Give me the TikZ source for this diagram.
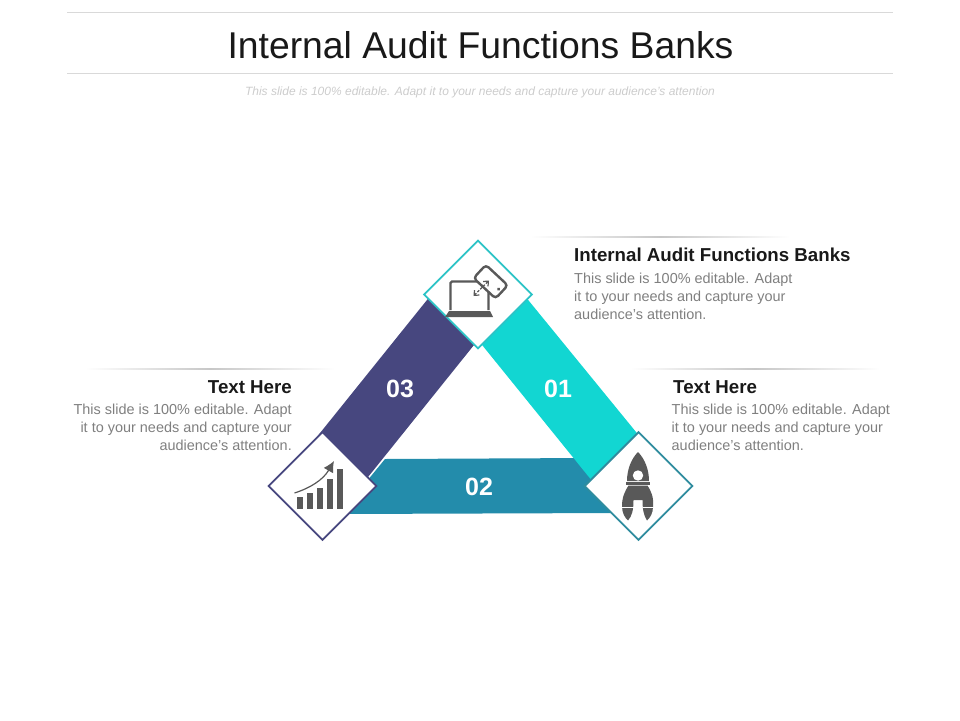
\documentclass[tikz,border=0pt]{standalone}
\usepackage{fontspec}
\setmainfont{Liberation Sans}
\usetikzlibrary{arrows.meta, positioning, shapes.geometric}
\definecolor{tealbar}{HTML}{12D6D2}
\definecolor{navybar}{HTML}{47477F}
\definecolor{bluebar}{HTML}{238CAB}
\definecolor{tealline}{HTML}{2CC3C6}
\definecolor{blueline}{HTML}{2F8C9E}
\definecolor{icongray}{HTML}{595959}
\definecolor{bodygray}{HTML}{7F7F7F}
\begin{document}
\begin{tikzpicture}[
  x=1pt, y=-1pt,
  diamondbox/.style={draw, diamond, aspect=1, fill=white, line width=1.9pt, inner sep=0pt,
                     minimum width=108.5pt, minimum height=108.5pt},
  numlabel/.style={font=\fontsize{25}{25}\selectfont\bfseries, text=white, inner sep=0pt},
  headlabel/.style={font=\fontsize{18.7}{20}\selectfont\bfseries, text=black!90, inner sep=0pt},
  bodylabel/.style={font=\fontsize{14.45}{17.8}\selectfont, text=bodygray, inner sep=0pt},
  ruleline/.style={draw=black!15, line width=0.8pt},
  fadeline/.style={left color=white, right color=white, middle color=black!22}
]
  \useasboundingbox (0,0) rectangle (960,720);

  % title block
  \node[font=\fontsize{37.3}{38}\selectfont, text=black!90, inner sep=0pt] (title) at (480.5,45) {Internal Audit Functions Banks};
  \coordinate (ruleAL) at (67,12);
  \coordinate (ruleAR) at (893,12);
  \coordinate (ruleBL) at (67,73);
  \coordinate (ruleBR) at (893,73);
  \draw[ruleline] (ruleAL) -- (ruleAR);
  \draw[ruleline] (ruleBL) -- (ruleBR);
  \node[font=\fontsize{12}{12}\selectfont\itshape, text=black!20, inner sep=0pt] (subtitle) at (480,92)
    {This slide is 100\% editable. Adapt it to your needs and capture your audience's attention};

  % triangle bars
  \fill[bluebar] (340,514) -- (385,459) -- (590,458) -- (620,513) -- cycle;
  \fill[navybar] (435,290) -- (482,335) -- (360,487) -- (312,443) -- cycle;
  \fill[tealbar] (520,290) -- (645,443) -- (597,487) -- (474,335) -- cycle;

  \node[numlabel] (n01) at (558,389) {01};
  \node[numlabel] (n02) at (479,487) {02};
  \node[numlabel] (n03) at (400,389) {03};

  % corner diamonds
  \node[diamondbox, draw=tealline] (top) at (478,294.5) {};
  \node[diamondbox, draw=navybar] (left) at (322.5,486) {};
  \node[diamondbox, draw=blueline] (right) at (638.5,486) {};

  % laptop and phone
  \draw[icongray, line width=2.2pt, rounded corners=1.5pt] (450.5,310) -- (450.5,281.5) -- (488.5,281.5) -- (488.5,310);
  \fill[icongray] (449,311) -- (490,311) -- (493,317) -- (445,317) -- cycle;
  \begin{scope}[rotate around={-43:(490.7,281.7)}]
    \draw[icongray, fill=white, line width=2.4pt, rounded corners=3.5pt] (475.7,272.7) rectangle (505.7,290.7);
    \fill[icongray] (501.5,281.7) circle (1.8);
  \end{scope}
  \draw[icongray, line width=1.2pt, dash pattern=on 2.5pt off 1.5pt, {Straight Barb[length=4pt,width=7pt]}-{Straight Barb[length=4pt,width=7pt]}]
    (473.5,296) -- (489,280.5);

  % chart
  \foreach \x/\y in {297/497,307/493,317/488,327/479,337/469} {
    \fill[icongray] (\x,\y) rectangle (\x+6,509);
  }
  \draw[icongray, line width=1.2pt, -{Latex[length=11pt,width=11pt]}] (294.5,493) .. controls (310,488) and (323,480) .. (334,461);

  % rocket
  \fill[icongray] (638,452) .. controls (645,459) and (649,470) .. (649,481) -- (627,481) .. controls (627,470) and (631,459) .. (638,452) -- cycle;
  \fill[white] (638,475.5) circle (5.2);
  \fill[icongray] (626,482) rectangle (650,484.5);
  \fill[icongray] (628.5,485.5) -- (647.5,485.5) .. controls (651,491) and (654,497) .. (653,507)
    .. controls (653,513) and (650,518) .. (647,520.5) .. controls (644,516) and (642.5,510) .. (642.5,500)
    -- (633.5,500) .. controls (633.5,510) and (632,516) .. (628,520.5) .. controls (625,518) and (622,513) .. (622,506)
    .. controls (622,497) and (625,491) .. (628.5,485.5) -- cycle;
  \draw[white, line width=0.4pt] (622,507) -- (633.5,507);
  \draw[white, line width=0.4pt] (642.5,507) -- (653,507);

  % fading rules above the captions
  \shade[fadeline] (530,236.5) rectangle (790,237.5);
  \shade[fadeline] (85,368.5) rectangle (335,369.5);
  \shade[fadeline] (630,368.5) rectangle (880,369.5);

  % captions
  \node[headlabel, anchor=north west] (headA) at (574,248) {Internal Audit Functions Banks};
  \node[bodylabel, align=left, below=11pt of headA.south west, anchor=north west] (bodyA)
    {This slide is 100\% editable. Adapt\\it to your needs and capture your\\audience's attention.};
  \node[headlabel, anchor=north west] (headB) at (673,380.5) {Text Here};
  \node[bodylabel, align=left, anchor=north west] (bodyB) at (671.5,404)
    {This slide is 100\% editable. Adapt\\it to your needs and capture your\\audience's attention.};
  \node[headlabel, anchor=north east] (headC) at (292,380.5) {Text Here};
  \node[bodylabel, align=right, anchor=north east] (bodyC) at (292,404)
    {This slide is 100\% editable. Adapt\\it to your needs and capture your\\audience's attention.};
\end{tikzpicture}
\end{document}
